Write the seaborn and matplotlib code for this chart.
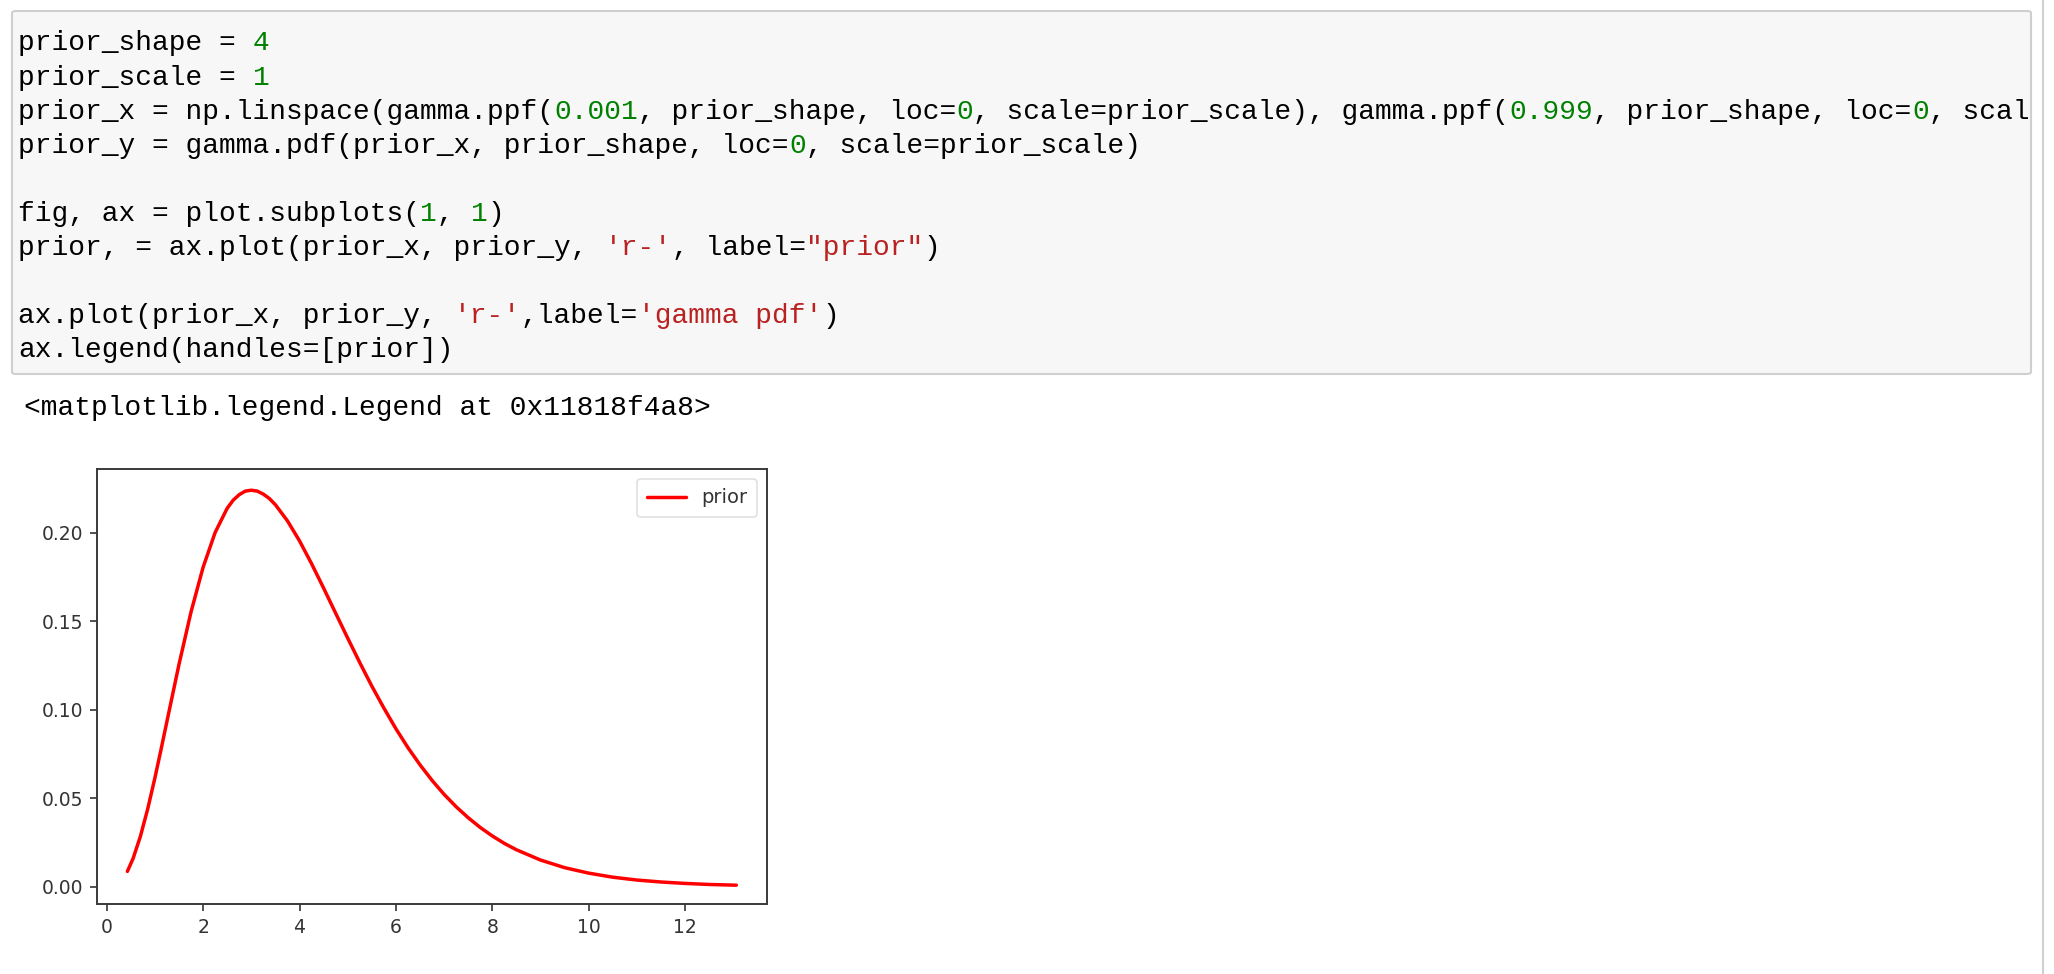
import matplotlib
matplotlib.use("Agg")
import matplotlib.pyplot as plt
from matplotlib.patches import FancyBboxPatch
from matplotlib.lines import Line2D
import seaborn as sns
import pandas as pd

# ---- data (gamma pdf, shape 4, scale 1) ----
prior_x = [0.43, 0.55, 0.7, 0.85, 1.0, 1.125, 1.25, 1.5, 1.75, 2.0, 2.25, 2.5,
           2.625, 2.75, 2.875, 3.0, 3.125, 3.25, 3.375, 3.5, 3.75, 4.0, 4.25,
           4.5, 4.75, 5.0, 5.25, 5.5, 5.75, 6.0, 6.25, 6.5, 6.75, 7.0, 7.25,
           7.5, 7.75, 8.0, 8.25, 8.5, 9.0, 9.5, 10.0, 10.5, 11.0, 11.5, 12.0,
           12.5, 13.06]
prior_y = [0.0086, 0.0160, 0.0284, 0.0437, 0.0613, 0.0771, 0.0933, 0.1255, 0.1552,
           0.1804, 0.2001, 0.2138, 0.2184, 0.2215, 0.2235, 0.2240, 0.2235, 0.2218,
           0.2193, 0.2158, 0.2067, 0.1954, 0.1825, 0.1687, 0.1545, 0.1404, 0.1266,
           0.1133, 0.1009, 0.0892, 0.0785, 0.0688, 0.0600, 0.0521, 0.0451, 0.0389,
           0.0334, 0.0286, 0.0244, 0.0208, 0.0150, 0.0107, 0.0076, 0.0053, 0.0037,
           0.0026, 0.0018, 0.0012, 0.0008]
x_ticks = [0, 2, 4, 6, 8, 10, 12]
y_ticks = [0.00, 0.05, 0.10, 0.15, 0.20]
y_tick_labels = ["0.00", "0.05", "0.10", "0.15", "0.20"]
legend_label = "prior"

# code cell text as (text, colour) segments per line
K, G, R = "#000000", "#008000", "#BA2121"
code_lines = [
    [("prior_shape = ", K), ("4", G)],
    [("prior_scale = ", K), ("1", G)],
    [("prior_x = np.linspace(gamma.ppf(", K), ("0.001", G), (", prior_shape, loc=", K),
     ("0", G), (", scale=prior_scale), gamma.ppf(", K), ("0.999", G),
     (", prior_shape, loc=", K), ("0", G), (", scal", K)],
    [("prior_y = gamma.pdf(prior_x, prior_shape, loc=", K), ("0", G),
     (", scale=prior_scale)", K)],
    [],
    [("fig, ax = plot.subplots(", K), ("1", G), (", ", K), ("1", G), (")", K)],
    [("prior, = ax.plot(prior_x, prior_y, ", K), ("'r-'", R), (", label=", K),
     ('"prior"', R), (")", K)],
    [],
    [("ax.plot(prior_x, prior_y, ", K), ("'r-'", R), (",label=", K), ("'gamma pdf'", R),
     (")", K)],
    [("ax.legend(handles=[prior])", K)],
]
output_text = "<matplotlib.legend.Legend at 0x11818f4a8>"

# ---- figure ----
W, H = 2054, 974
fig = plt.figure(figsize=(W / 100, H / 100), dpi=100)
fig.patch.set_facecolor("white")

def fx(px):
    return px / W

def fy(py):
    return 1 - py / H

# code cell box
box = FancyBboxPatch((fx(12), fy(374)), fx(2031) - fx(12), fy(11) - fy(374),
                     boxstyle="round,pad=0,rounding_size=0.002",
                     transform=fig.transFigure, facecolor="#f7f7f7",
                     edgecolor="#cfcfcf", linewidth=1.5)
fig.patches.append(box)

# page edge line on the right
fig.add_artist(Line2D([fx(2043), fx(2043)], [0, 1], transform=fig.transFigure,
                      color="#d0d0d0", linewidth=1.5))

mono = "Liberation Mono"
fs = 20.1
charw = 16.76
x0 = 18.0
base0 = 50.5
step = 34.1
for i, segs in enumerate(code_lines):
    col = 0
    for txt, c in segs:
        fig.text(fx(x0 + col * charw), fy(base0 + i * step), txt, color=c,
                 family=mono, fontsize=fs, va="baseline", ha="left")
        col += len(txt)

fig.text(fx(24), fy(415), output_text, color="#000000", family=mono,
         fontsize=fs, va="baseline", ha="left")

# ---- chart ----
ax = fig.add_axes([fx(97), fy(904.3), fx(766.7) - fx(97), fy(469) - fy(904.3)])
df = pd.DataFrame({"x": prior_x, "y": prior_y})
sns.lineplot(data=df, x="x", y="y", color="red", linewidth=2.5, ax=ax,
             label=legend_label, estimator=None, sort=False,
             solid_joinstyle="round", solid_capstyle="round")
ax.set_xlim(-0.2, 13.69)
ax.set_ylim(-0.0100, 0.2360)
ax.set_xticks(x_ticks)
ax.set_yticks(y_ticks)
ax.set_yticklabels(y_tick_labels)
ax.set_xlabel("")
ax.set_ylabel("")
for s in ax.spines.values():
    s.set_color("#3a3a3a")
    s.set_linewidth(1.4)
ax.tick_params(labelsize=13.5, colors="#333333", length=5, width=1.2, pad=5)
leg = ax.legend(loc="upper right", fontsize=14, frameon=True, borderpad=0.5)
leg.get_frame().set_edgecolor("#d9d9d9")
leg.get_frame().set_linewidth(1.2)
for t in leg.get_texts():
    t.set_color("#333333")

fig.savefig("out.png", dpi=100)
